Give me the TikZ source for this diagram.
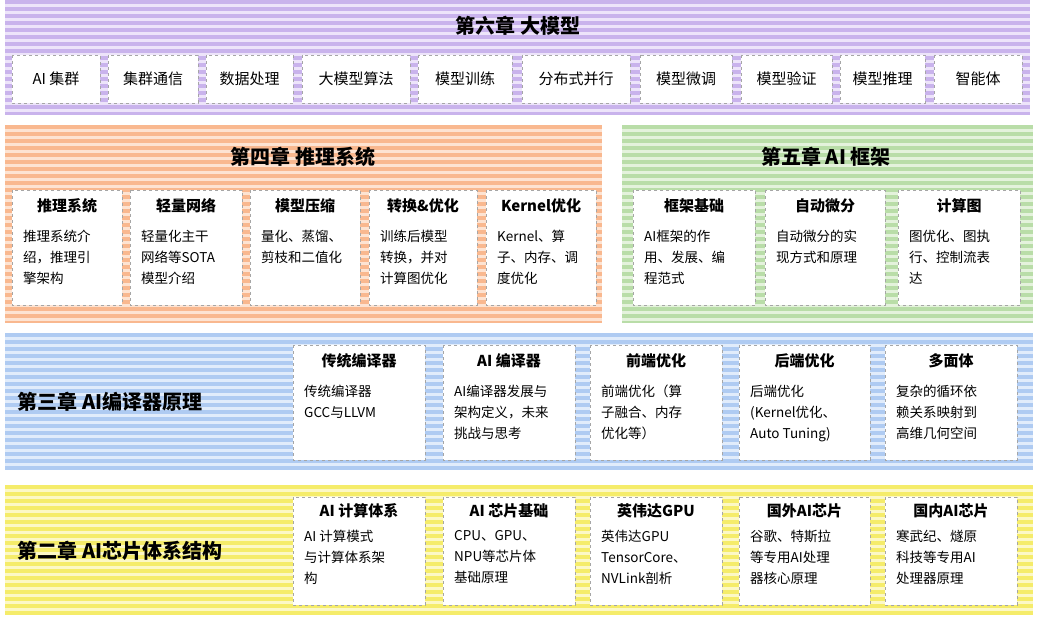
\documentclass[tikz,border=0pt]{standalone}
\usepackage{fontspec}
\setmainfont{Noto Sans CJK SC}
\begin{document}
\begin{tikzpicture}[x=1pt,y=-1pt,
  card/.style={draw=gray!70,dashed,fill=white,line width=0.7pt},
  ctitle/.style={font=\bfseries\fontsize{15}{17}\selectfont,anchor=north},
  cbody/.style={font=\fontsize{13.5}{21}\selectfont,anchor=north west,align=left,inner sep=0pt},
  stitle/.style={font=\bfseries\fontsize{20}{22}\selectfont},
  small/.style={font=\fontsize{15}{17}\selectfont}]
\useasboundingbox (0,0) rectangle (1060,620);
\definecolor{pu}{HTML}{C9B3EC}\definecolor{pul}{HTML}{EDE4FA}
\definecolor{or}{HTML}{F9B88F}\definecolor{orl}{HTML}{FDE3D2}
\definecolor{gr}{HTML}{B9DDA8}\definecolor{grl}{HTML}{E4F2DC}
\definecolor{bl}{HTML}{AFCBF2}\definecolor{bll}{HTML}{E1ECFB}
\definecolor{ye}{HTML}{F5EC6A}\definecolor{yel}{HTML}{FCF8C6}
\newcommand{\band}[6]{%
  \fill[#6] (#1,#2) rectangle (#3,#4);
  \begin{scope}\clip (#1,#2) rectangle (#3,#4);
  \foreach \k in {0,...,29} \draw[#5,line width=4pt] (#1,{#2+7*\k+2}) -- (#3,{#2+7*\k+2});
  \end{scope}}
\band{5}{0}{1030}{115}{pu}{pul}
\band{5}{125}{602}{322}{or}{orl}
\band{622}{125}{1033}{322}{gr}{grl}
\band{5}{333}{1033}{470}{bl}{bll}
\band{5}{485}{1033}{615}{ye}{yel}
\node[stitle] (t6) at (518,26) {第六章\ 大模型};
\node[stitle] (t4) at (303,157) {第四章\ 推理系统};
\node[stitle] (t5) at (826,157) {第五章\ AI 框架};
\node[stitle,anchor=west] (t3) at (14,402) {第三章\ AI编译器原理};
\node[stitle,anchor=west] (t2) at (14,551) {第二章\ AI芯片体系结构};
% chapter 6
\foreach \a/\b/\t [count=\i] in {12/100/AI 集群,108/198/集群通信,206/293/数据处理,302/410/大模型算法,418/512/模型训练,522/630/分布式并行,640/732/模型微调,741/832/模型验证,840/925/模型推理,934/1022/智能体}{
  \draw[card] (\a,55) rectangle (\b,103);
  \node[small] (s6\i) at ({(\a+\b)/2},79) {\t};}
% generic card
\newcommand{\card}[7]{%
  \draw[card] (#2,#3) rectangle (#4,#5);
  \node[ctitle] (#1t) at ({(#2+#4)/2},{#3+5}) {#6};
  \node[cbody] (#1b) at ({#2+11},{#3+40}) {#7};}
\card{a1}{12}{190}{122}{305}{推理系统}{推理系统介\\绍，推理引\\擎架构}
\card{a2}{130}{190}{242}{305}{轻量网络}{轻量化主干\\网络等SOTA\\模型介绍}
\card{a3}{250}{190}{360}{305}{模型压缩}{量化、蒸馏、\\剪枝和二值化}
\card{a4}{369}{190}{477}{305}{转换\&优化}{训练后模型\\转换，并对\\计算图优化}
\card{a5}{486}{190}{596}{305}{Kernel优化}{Kernel、算\\子、内存、调\\度优化}
\card{b1}{633}{190}{755}{305}{框架基础}{AI框架的作\\用、发展、编\\程范式}
\card{b2}{765}{190}{885}{305}{自动微分}{自动微分的实\\现方式和原理}
\card{b3}{898}{190}{1020}{305}{计算图}{图优化、图执\\行、控制流表\\达}
\card{c1}{293}{345}{425}{460}{传统编译器}{传统编译器\\GCC与LLVM}
\card{c2}{443}{345}{575}{460}{AI 编译器}{AI编译器发展与\\架构定义，未来\\挑战与思考}
\card{c3}{590}{345}{722}{460}{前端优化}{前端优化（算\\子融合、内存\\优化等）}
\card{c4}{739}{345}{870}{460}{后端优化}{后端优化\\(Kernel优化、\\Auto Tuning)}
\card{c5}{885}{345}{1017}{460}{多面体}{复杂的循环依\\赖关系映射到\\高维几何空间}
\newcommand{\cardb}[7]{%
  \draw[card] (#2,#3) rectangle (#4,#5);
  \node[ctitle] (#1t) at ({(#2+#4)/2},{#3+3}) {#6};
  \node[cbody] (#1b) at ({#2+11},{#3+33}) {#7};}
\cardb{d1}{293}{497}{425}{605}{AI 计算体系}{AI 计算模式\\与计算体系架\\构}
\cardb{d2}{443}{497}{575}{605}{AI 芯片基础}{CPU、GPU、\\NPU等芯片体\\基础原理}
\cardb{d3}{590}{497}{722}{605}{英伟达GPU}{英伟达GPU\\TensorCore、\\NVLink剖析}
\cardb{d4}{739}{497}{870}{605}{国外AI芯片}{谷歌、特斯拉\\等专用AI处理\\器核心原理}
\cardb{d5}{885}{497}{1017}{605}{国内AI芯片}{寒武纪、燧原\\科技等专用AI\\处理器原理}
\end{tikzpicture}
\end{document}
